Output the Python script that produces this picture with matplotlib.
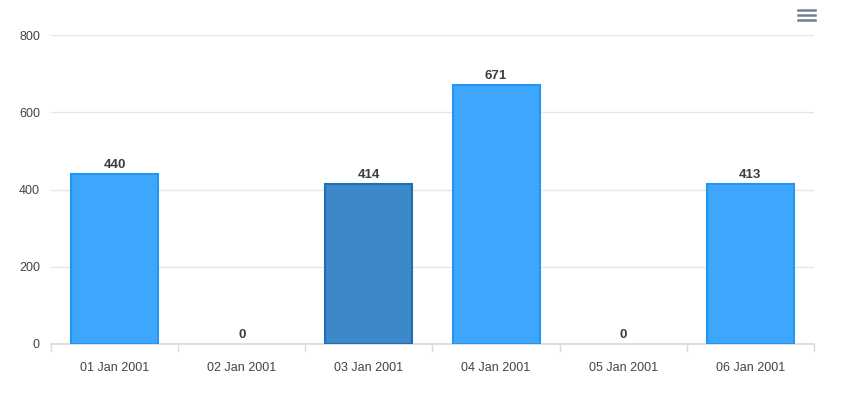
import matplotlib
matplotlib.use("Agg")
import matplotlib.pyplot as plt
from matplotlib.lines import Line2D

categories = ["01 Jan 2001", "02 Jan 2001", "03 Jan 2001", "04 Jan 2001", "05 Jan 2001", "06 Jan 2001"]
values = [440, 0, 414, 671, 0, 413]
highlight_index = 2
yticks = [0, 200, 400, 600, 800]

plt.rcParams['font.family'] = ['Liberation Sans', 'DejaVu Sans']

W, H = 841, 399
fig = plt.figure(figsize=(W / 100, H / 100), dpi=100)
ax = fig.add_axes([51 / W, 55 / H, (814 - 51) / W, (344 - 35) / H])

x = list(range(len(categories)))
fills = ['#3d88c8' if i == highlight_index else '#3ea6fd' for i in x]
edges = ['#1e6fb6' if i == highlight_index else '#2196f3' for i in x]
lws = [1.5 if v > 0 else 0 for v in values]
ax.bar(x, values, width=0.685, color=fills, edgecolor=edges, linewidth=lws, zorder=3)

for xi, v in zip(x, values):
    ax.text(xi, v + 8, str(v), ha='center', va='bottom', fontsize=9.5, fontweight='bold', color='#3d3d3d', zorder=4)

ax.set_xlim(-0.5, len(categories) - 0.5)
ax.set_ylim(0, 800)
ax.set_yticks(yticks)
ax.set_yticklabels([str(t) for t in yticks], fontsize=9, color='#444444')
ax.yaxis.grid(True, color='#e6e6e6', linewidth=1, zorder=0)
ax.tick_params(axis='y', length=0, pad=8)

ax.set_xticks(x)
ax.set_xticklabels(categories, fontsize=9, color='#444444')
ax.tick_params(axis='x', length=0, pad=13)
ax.set_xticks([i - 0.5 for i in range(len(categories) + 1)], minor=True)
ax.tick_params(axis='x', which='minor', length=6, color='#d9d9d9', width=1)

for s in ['top', 'right', 'left']:
    ax.spines[s].set_visible(False)
ax.spines['bottom'].set_color('#d9d9d9')
ax.spines['bottom'].set_linewidth(1.2)

# hamburger menu icon
for yy in [10, 15, 20]:
    fig.add_artist(Line2D([798 / W, 815 / W], [1 - yy / H, 1 - yy / H], color='#6e8192', linewidth=1.8, transform=fig.transFigure))

fig.savefig('out.png', dpi=100, facecolor='white')
